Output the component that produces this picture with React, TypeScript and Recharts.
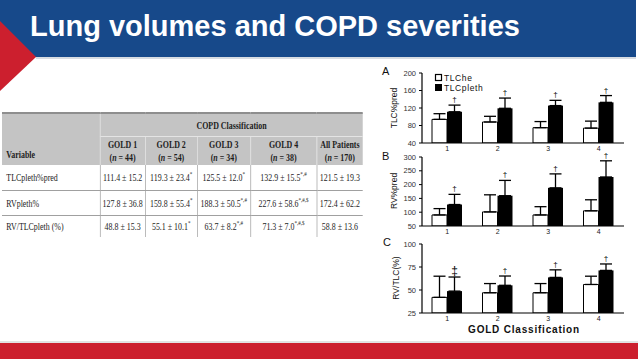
import React from 'react';
import { BarChart, Bar, XAxis, YAxis, ErrorBar, LabelList } from 'recharts';

const groups = ['1', '2', '3', '4'];

// A: TLC %pred (white = TLChe, black = TLCpleth)
const tlcHe = [94, 88, 75, 74];
const tlcHeSd = [13, 13, 14, 16];
const tlcPleth = [111.4, 119.3, 125.5, 132.9];
const tlcPlethSd = [15.2, 23.4, 12.0, 15.5];
const tlcMarks = ['†', '†', '†', '†'];
const tlcTicks = [40, 80, 120, 160, 200];

// B: RV %pred
const rvHe = [90, 101, 90, 105];
const rvHeSd = [23, 62, 30, 40];
const rvPleth = [127.8, 159.8, 188.3, 227.6];
const rvPlethSd = [36.8, 55.4, 50.5, 58.6];
const rvMarks = ['†', '†', '†', '†'];
const rvTicks = [50, 100, 150, 200, 250, 300];

// C: RV/TLC %
const ratioHe = [42, 47, 47, 56];
const ratioHeSd = [23, 10, 10, 9];
const ratioPleth = [48.8, 55.1, 63.7, 71.3];
const ratioPlethSd = [15.3, 10.1, 8.2, 7.0];
const ratioMarks = ['‡', '†', '†', '†'];
const ratioTicks = [25, 50, 75, 100];

// table
const tableCols = ['GOLD 1', 'GOLD 2', 'GOLD 3', 'GOLD 4', 'All Patients'];
const tableN = ['44', '54', '34', '38', '170'];
const tableRows = ['TLCpleth%pred', 'RVpleth%', 'RV/TLCpleth (%)'];
const tableMeans = [
  ['111.4', '119.3', '125.5', '132.9', '121.5'],
  ['127.8', '159.8', '188.3', '227.6', '172.4'],
  ['48.8', '55.1', '63.7', '71.3', '58.8'],
];
const tableSds = [
  ['15.2', '23.4', '12.0', '15.5', '19.3'],
  ['36.8', '55.4', '50.5', '58.6', '62.2'],
  ['15.3', '10.1', '8.2', '7.0', '13.6'],
];
const tableSup = [
  ['', '*', '*', '*,#', ''],
  ['', '*', '*,#', '*,#,$', ''],
  ['', '*', '*,#', '*,#,$', ''],
];

const SANS = '"Liberation Sans", Arial, sans-serif';
const SERIF = '"Liberation Serif", "Times New Roman", serif';
const SQUEEZE = 0.72;
const colW = [136, 63, 72, 74, 92, 64];

function makeRows(he: number[], heSd: number[], pl: number[], plSd: number[], marks: string[]) {
  return groups.map((g, i) => ({
    g,
    he: he[i],
    heErr: [0, heSd[i]],
    pl: pl[i],
    plErr: [0, plSd[i]],
    mark: marks[i],
  }));
}

const rowsA = makeRows(tlcHe, tlcHeSd, tlcPleth, tlcPlethSd, tlcMarks);
const rowsB = makeRows(rvHe, rvHeSd, rvPleth, rvPlethSd, rvMarks);
const rowsC = makeRows(ratioHe, ratioHeSd, ratioPleth, ratioPlethSd, ratioMarks);

const markLabel = (rows: any[], min: number) => (p: any) => {
  const i = typeof p.index === 'number' ? p.index : rows.findIndex((r) => r.pl === p.value);
  const r = rows[i];
  if (!r) return null;
  const h = Number(p.height);
  const y = Number(p.y);
  const ppu = h / (r.pl - min);
  const top = y - r.plErr[1] * ppu;
  const big = r.mark === '‡';
  return (
    <text
      x={Number(p.x) + Number(p.width) / 2}
      y={top - (big ? 2 : 3)}
      textAnchor="middle"
      fontSize={big ? 12 : 8}
      fontFamily={SANS}
      fill="#000"
    >
      {r.mark}
    </text>
  );
};

function Panel({ rows, domain, ticks, top, height, xHeight }: any) {
  return (
    <div style={{ position: 'absolute', left: 365, top }}>
      <BarChart
        width={262}
        height={height}
        data={rows}
        margin={{ top: 11, right: 3, left: 0, bottom: 0 }}
        barSize={15}
        barGap={0}
      >
        <XAxis
          dataKey="g"
          height={xHeight}
          axisLine={{ stroke: '#000', strokeWidth: 1.2 }}
          tickLine={false}
          tickSize={2}
          tickMargin={1}
          tick={{ fontSize: 7, fill: '#222', fontFamily: SANS }}
        />
        <YAxis
          width={57}
          domain={domain}
          ticks={ticks}
          interval={0}
          allowDataOverflow
          axisLine={{ stroke: '#000', strokeWidth: 1.2 }}
          tickLine={{ stroke: '#000' }}
          tickSize={3}
          tickMargin={3}
          tick={{ fontSize: 7.5, fill: '#333', fontFamily: SANS }}
        />
        <Bar dataKey="he" fill="#fff" stroke="#000" strokeWidth={1} isAnimationActive={false}>
          <ErrorBar dataKey="heErr" width={6} stroke="#000" strokeWidth={1.3} />
        </Bar>
        <Bar dataKey="pl" fill="#000" isAnimationActive={false}>
          <ErrorBar dataKey="plErr" width={6} stroke="#000" strokeWidth={1.3} />
          <LabelList dataKey="pl" content={markLabel(rows, domain[0])} />
        </Bar>
      </BarChart>
    </div>
  );
}

function DataTable() {
  const line = '1px solid #a0a0a0';
  const light = '1px solid #e4e4e4';
  return (
    <div style={{ position: 'absolute', left: 2, top: 112, width: 362, height: 126, overflow: 'hidden' }}>
      <table
        style={{
          width: colW.reduce((a, b) => a + b, 0),
          transform: `scaleX(${SQUEEZE})`,
          transformOrigin: '0 0',
          borderCollapse: 'collapse',
          tableLayout: 'fixed',
          fontFamily: SERIF,
          fontSize: 11,
          color: '#1d1d1d',
        }}
      >
        <colgroup>
          {colW.map((w, i) => (
            <col key={i} style={{ width: w }} />
          ))}
        </colgroup>
        <thead>
          <tr style={{ height: 23, background: '#c4c4c4' }}>
            <th
              rowSpan={2}
              style={{
                textAlign: 'left',
                verticalAlign: 'bottom',
                padding: '0 0 5px 6px',
                borderTop: '2px solid #8e8e8e',
                borderRight: light,
              }}
            >
              Variable
            </th>
            <th colSpan={5} style={{ borderTop: '2px solid #8e8e8e', borderBottom: light, padding: 0 }}>
              COPD Classification
            </th>
          </tr>
          <tr style={{ height: 29, background: '#c4c4c4' }}>
            {tableCols.map((c, i) => (
              <th key={c} style={{ borderRight: i < 4 ? light : 'none', lineHeight: '13px', padding: 0 }}>
                {c}
                <br />(<i>n</i> = {tableN[i]})
              </th>
            ))}
          </tr>
        </thead>
        <tbody>
          {tableRows.map((r, ri) => (
            <tr key={r} style={{ height: ri === 2 ? 22 : 25 }}>
              <td style={{ padding: '0 0 0 6px', borderBottom: ri < 2 ? line : 'none', borderRight: line }}>{r}</td>
              {tableMeans[ri].map((m, ci) => (
                <td
                  key={ci}
                  style={{
                    textAlign: 'center',
                    padding: 0,
                    borderBottom: ri < 2 ? line : 'none',
                    borderRight: ci < 4 ? line : 'none',
                  }}
                >
                  {m} ± {tableSds[ri][ci]}
                  {tableSup[ri][ci] && (
                    <sup style={{ fontSize: 7, lineHeight: 0 }}>{tableSup[ri][ci]}</sup>
                  )}
                </td>
              ))}
            </tr>
          ))}
        </tbody>
      </table>
    </div>
  );
}

export default function App() {
  return (
    <div
      style={{
        position: 'absolute',
        left: 0,
        top: 0,
        width: 638,
        height: 359,
        overflow: 'hidden',
        background: '#fff',
      }}
    >
      <div style={{ position: 'absolute', left: 0, top: 0, width: 636, height: 57, background: '#17498a' }} />
      <div style={{ position: 'absolute', left: 36, top: 57, width: 600, height: 2, background: '#d8dce2' }} />
      <svg style={{ position: 'absolute', left: 0, top: 0 }} width={40} height={95}>
        <polygon points="0,21 36,57 0,91" fill="#cc1f2e" />
      </svg>
      <div
        style={{
          position: 'absolute',
          left: 30,
          top: 12,
          fontFamily: SANS,
          fontWeight: 'bold',
          fontSize: 29,
          lineHeight: '29px',
          color: '#fff',
          whiteSpace: 'nowrap',
        }}
      >
        Lung volumes and COPD severities
      </div>

      <DataTable />

      <Panel rows={rowsA} domain={[40, 200]} ticks={tlcTicks} top={62} height={95} xHeight={14} />
      <Panel rows={rowsB} domain={[50, 300]} ticks={rvTicks} top={146} height={94} xHeight={14} />
      <Panel rows={rowsC} domain={[25, 100]} ticks={ratioTicks} top={233} height={100} xHeight={20} />

      <svg style={{ position: 'absolute', left: 0, top: 0, pointerEvents: 'none' }} width={638} height={359}>
        <g fontFamily={SANS} fill="#111">
          <text x={382} y={75} fontSize={11}>A</text>
          <text x={382} y={160} fontSize={11}>B</text>
          <text x={383} y={246} fontSize={11}>C</text>
          <text transform="translate(397,108) rotate(-90)" textAnchor="middle" fontSize={8.5}>TLC%pred</text>
          <text transform="translate(397,191) rotate(-90)" textAnchor="middle" fontSize={8.5}>RV%pred</text>
          <text transform="translate(399,278) rotate(-90)" textAnchor="middle" fontSize={8.5}>RV/TLC(%)</text>
          <rect x={435.5} y={74.5} width={6} height={6} fill="#fff" stroke="#000" strokeWidth={1.2} />
          <rect x={435} y={84} width={7} height={7} fill="#000" />
          <text x={444} y={81} fontSize={8.5} letterSpacing={0.6}>TLChe</text>
          <text x={444} y={91} fontSize={8.5} letterSpacing={0.6}>TLCpleth</text>
          <text x={524} y={333} textAnchor="middle" fontSize={10} fontWeight="bold" letterSpacing={0.8}>
            GOLD Classification
          </text>
        </g>
      </svg>

      <div style={{ position: 'absolute', left: 0, top: 341, width: 638, height: 2, background: '#e2e2e2' }} />
      <div style={{ position: 'absolute', left: 0, top: 343, width: 638, height: 16, background: '#cc1f2e' }} />
    </div>
  );
}
